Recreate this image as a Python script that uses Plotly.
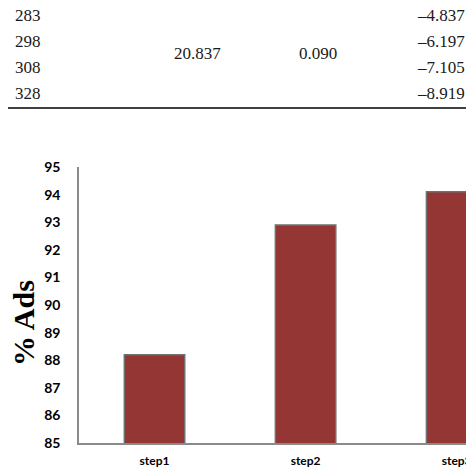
import plotly.graph_objects as go

# table rows above the chart
temps = [283, 298, 308, 328]
delta_h = "20.837"
delta_s = "0.090"
delta_g = [-4.837, -6.197, -7.105, -8.919]

# bar data
steps = ["step1", "step2", "step3"]
ads = [88.2, 92.9, 94.1]

fig = go.Figure()
fig.add_trace(go.Bar(
    x=steps, y=ads, width=0.4,
    marker=dict(color="#943634", line=dict(color="#707070", width=1.5)),
))

# page has an 8px body margin; plot area sits at page x 79..474, y 167..443
def py(y_px):
    return (443 - y_px) / 276

def px_(x_px):
    return (x_px - 79) / 395

serif = dict(family="Liberation Serif", size=17, color="#1a1a1a")
for i, t in enumerate(temps):
    y = py(15 + 26.2 * i)
    fig.add_annotation(x=px_(13), y=y, xref="paper", yref="paper", text=str(t),
                       showarrow=False, xanchor="left", yanchor="middle", font=serif)
    fig.add_annotation(x=px_(467), y=y, xref="paper", yref="paper",
                       text=f"{delta_g[i]:.3f}".replace("-", "–"),
                       showarrow=False, xanchor="right", yanchor="middle", font=serif)
mid = py(54)
fig.add_annotation(x=px_(197), y=mid, xref="paper", yref="paper", text=delta_h,
                   showarrow=False, xanchor="center", yanchor="middle", font=serif)
fig.add_annotation(x=px_(318), y=mid, xref="paper", yref="paper", text=delta_s,
                   showarrow=False, xanchor="center", yanchor="middle", font=serif)
fig.add_shape(type="line", xref="paper", yref="paper",
              x0=px_(8), x1=px_(469), y0=py(108), y1=py(108),
              line=dict(color="black", width=1.5))

# y axis title
fig.add_annotation(x=px_(23), y=py(323), xref="paper", yref="paper", text="<b>% Ads</b>",
                   textangle=-90, showarrow=False, xanchor="center", yanchor="middle",
                   font=dict(family="Liberation Serif", size=30, color="black"))

fig.update_layout(
    width=466, height=459,
    margin=dict(l=71, r=0, t=159, b=24),
    plot_bgcolor="white", paper_bgcolor="white",
    showlegend=False,
)
fig.update_xaxes(
    range=[-0.5, 2.115], showgrid=False, showline=True, linecolor="#8a8a8a", linewidth=1.5,
    ticks="", ticklabelstandoff=6,
    tickfont=dict(family="Lato", size=12, weight="bold", color="black"),
)
fig.update_yaxes(
    range=[85, 95], dtick=1, showgrid=False, showline=True, linecolor="#8a8a8a", linewidth=1.5,
    ticks="", zeroline=False, ticklabelstandoff=14,
    tickfont=dict(family="Lato", size=14, weight="bold", color="black"),
)

fig.write_html("out.html")
